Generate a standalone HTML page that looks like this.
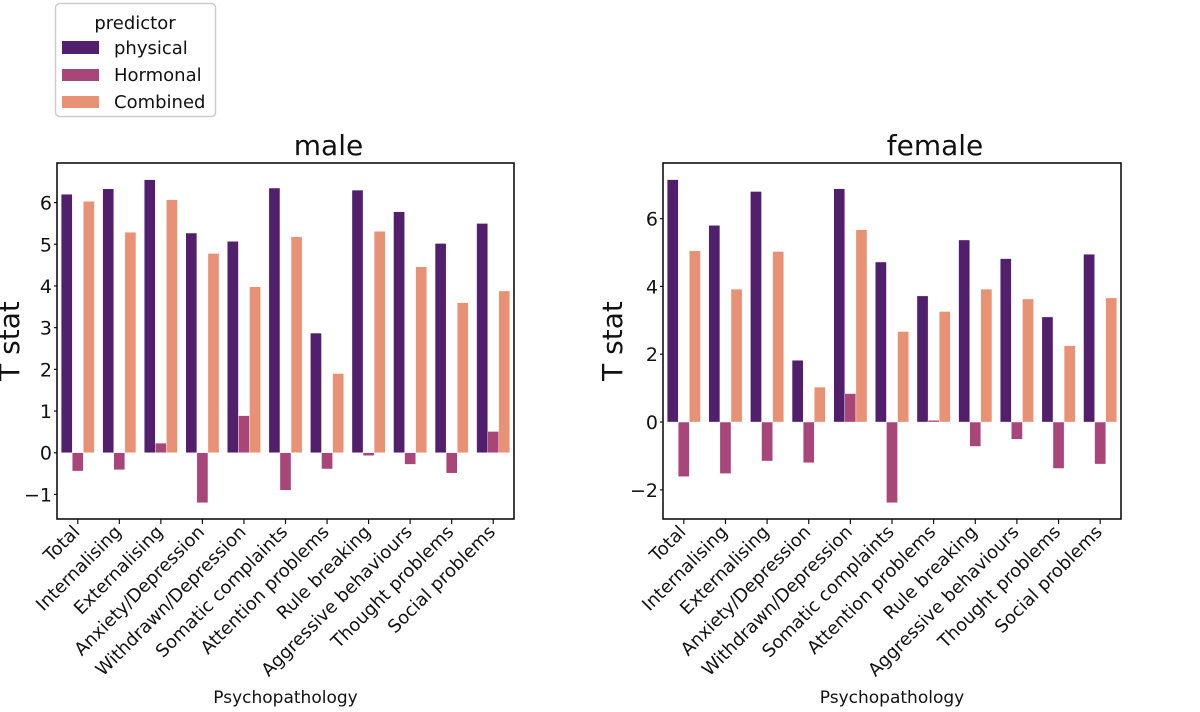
<!DOCTYPE html>
<html><head><meta charset="utf-8"><style>
body{margin:0;background:#fff}
svg{display:block;font-family:"DejaVu Sans","Liberation Sans",sans-serif}
</style></head><body>
<svg id="chart" width="1200" height="712" viewBox="0 0 1200 712">
<g>
<rect x="55.5" y="3.5" width="160" height="113" rx="4" fill="#fff" stroke="#ccc" stroke-width="1.5"/>
<text x="135" y="29" font-size="18" text-anchor="middle" fill="#111">predictor</text>
<rect x="62" y="41" width="37" height="13" fill="#511f6b"/>
<text x="114" y="54" font-size="18" fill="#111">physical</text>
<rect x="62" y="69" width="37" height="12" fill="#a8467a"/>
<text x="114" y="81" font-size="18" fill="#111">Hormonal</text>
<rect x="62" y="96" width="37" height="12" fill="#e99174"/>
<text x="114" y="108" font-size="18" fill="#111">Combined</text>
</g>
</svg>
<script>
const categories=["Total","Internalising","Externalising","Anxiety/Depression","Withdrawn/Depression","Somatic complaints","Attention problems","Rule breaking","Aggressive behaviours","Thought problems","Social problems"];
const seriesNames=["physical","Hormonal","Combined"];
const malePhysical=[6.2,6.33,6.55,5.27,5.07,6.35,2.87,6.3,5.78,5.02,5.5];
const maleHormonal=[-0.44,-0.41,0.23,-1.2,0.89,-0.9,-0.39,-0.07,-0.28,-0.49,0.51];
const maleCombined=[6.03,5.29,6.07,4.78,3.98,5.18,1.9,5.31,4.46,3.6,3.88];
const femalePhysical=[7.15,5.8,6.8,1.82,6.88,4.72,3.72,5.37,4.82,3.1,4.95];
const femaleHormonal=[-1.61,-1.52,-1.15,-1.2,0.84,-2.38,0.05,-0.72,-0.51,-1.37,-1.24];
const femaleCombined=[5.05,3.92,5.03,1.03,5.67,2.67,3.26,3.92,3.63,2.25,3.66];
const maleTicks=[-1,0,1,2,3,4,5,6];
const femaleTicks=[-2,0,2,4,6];
const maleDomain=[-1.59,6.95];
const femaleDomain=[-2.86,7.64];
const colors=["#511f6b","#a8467a","#e99174"];
const NS="http://www.w3.org/2000/svg";
const svg=document.getElementById('chart');
function mk(tag,attrs,parent){const e=document.createElementNS(NS,tag);for(const k in attrs)e.setAttribute(k,attrs[k]);(parent||svg).appendChild(e);return e;}
function panel(name,title,x0,x1,y0,y1,domain,ticks,series){
  const g=mk('g',{});
  
  
  const ys=v=>y1-(v-domain[0])/(domain[1]-domain[0])*(y1-y0);
  const band=(x1-x0)/categories.length;
  const bw=band*0.8/3;
  series.forEach((arr,s)=>{
    arr.forEach((v,i)=>{
      const x=x0+band*i+band*0.1+bw*s;
      const r=mk('rect',{x:x,y:Math.min(ys(v),ys(0)),width:bw,height:Math.abs(ys(v)-ys(0)),fill:colors[s],stroke:'#fff','stroke-width':0.4},g);
      
      
    });
  });
  const fr=mk('rect',{x:x0,y:y0,width:x1-x0,height:y1-y0,fill:'none',stroke:'#111','stroke-width':1.6},g);
  
  
  ticks.forEach(t=>{
    const y=ys(t);
    mk('line',{x1:x0-3,x2:x0,y1:y,y2:y,stroke:'#111','stroke-width':1.2},g);
    const tx=mk('text',{x:x0-5,y:y+7,'font-size':19,'text-anchor':'end',fill:'#111'},g);
    tx.textContent=t<0?'\u2212'+Math.abs(t):String(t);
    
    
  });
  categories.forEach((c,i)=>{
    const x=x0+band*(i+0.5);
    mk('line',{x1:x,x2:x,y1:y1,y2:y1+5,stroke:'#111','stroke-width':1.2},g);
    const tx=mk('text',{x:x+3,y:y1+14,'font-size':18,'text-anchor':'end',fill:'#111',transform:`rotate(-45 ${x+3} ${y1+14})`},g);
    tx.textContent=c;
    
    
  });
  const tt=mk('text',{x:(x0+x1)/2+43,y:y0-8,'font-size':28,'text-anchor':'middle',fill:'#111'},g);
  tt.textContent=title;
  
  
  const yl=mk('text',{x:0,y:0,'font-size':28,'text-anchor':'middle',fill:'#111',transform:`translate(${x0-(name==='male'?38:41)} ${(y0+y1)/2}) rotate(-90)`},g);
  yl.textContent='T stat';
  
  
  const xl=mk('text',{x:(x0+x1)/2,y:703,'font-size':17,'text-anchor':'middle',fill:'#111'},g);
  xl.textContent='Psychopathology';
  
  
}
panel('male','male',57,514,163,519,maleDomain,maleTicks,[malePhysical,maleHormonal,maleCombined]);
panel('female','female',663,1121,163,519,femaleDomain,femaleTicks,[femalePhysical,femaleHormonal,femaleCombined]);
</script>
</body></html>
